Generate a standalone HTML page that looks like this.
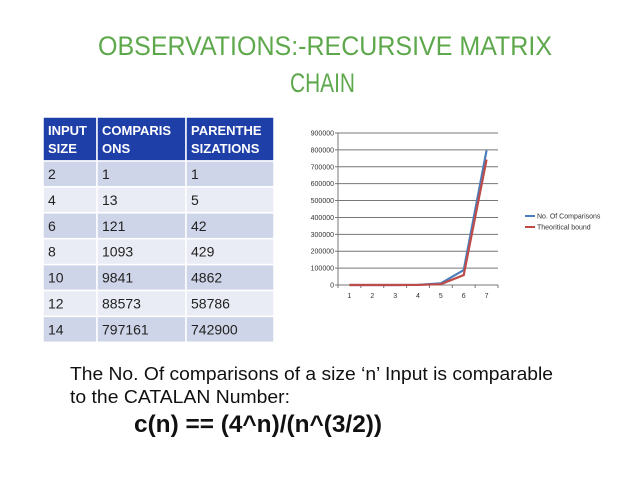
<!DOCTYPE html>
<html><head><meta charset="utf-8"><style>
body{margin:0;background:#fff;width:638px;height:478px;overflow:hidden}
svg{display:block;font-family:"Liberation Sans",sans-serif}
</style></head><body>
<svg id="s" width="638" height="478" viewBox="0 0 638 478">
<text x="98" y="55" font-size="27" fill="#5ea84c" textLength="454" lengthAdjust="spacingAndGlyphs">OBSERVATIONS:-RECURSIVE MATRIX</text>
<text x="290" y="92" font-size="27" fill="#5ea84c" textLength="65" lengthAdjust="spacingAndGlyphs">CHAIN</text>
<g id="table"></g>
<g id="chart"></g>
<text x="70" y="380" font-size="18" fill="#111" textLength="483" lengthAdjust="spacingAndGlyphs">The No. Of comparisons of a size ‘n’ Input is comparable</text>
<text x="70" y="403" font-size="18" fill="#111" textLength="220" lengthAdjust="spacingAndGlyphs">to the CATALAN Number:</text>
<text x="134" y="432" font-size="24" font-weight="bold" fill="#111" textLength="248" lengthAdjust="spacingAndGlyphs">c(n) == (4^n)/(n^(3/2))</text>
</svg>
<script>
const NS="http://www.w3.org/2000/svg";
const headers=[["INPUT","SIZE"],["COMPARIS","ONS"],["PARENTHE","SIZATIONS"]];
const inputSizes=[2,4,6,8,10,12,14];
const comparisons=[1,13,121,1093,9841,88573,797161];
const parenthesizations=[1,5,42,429,4862,58786,742900];
const categories=[1,2,3,4,5,6,7];
const yTicks=[0,100000,200000,300000,400000,500000,600000,700000,800000,900000];
const seriesNames=["No. Of Comparisons","Theoritical bound"];
function mk(tag,attrs,parent,txt){const e=document.createElementNS(NS,tag);for(const k in attrs)e.setAttribute(k,attrs[k]);if(txt!==undefined)e.textContent=txt;parent.appendChild(e);return e;}
// table
const tb=document.getElementById('table');
const colX=[43,97,186,274],hy0=117,hy1=161,rh=25.9;
for(let c=0;c<3;c++){
 const r=mk('rect',{x:colX[c],y:hy0,width:colX[c+1]-colX[c],height:hy1-hy0,fill:'#1f3fa8',stroke:'#fff','stroke-width':1.5},tb);
 
 
 headers[c].forEach((t,i)=>{const e=mk('text',{x:colX[c]+5,y:hy0+18+i*18,'font-size':13,'font-weight':'bold',fill:'#fff'},tb,t);
 
 });
}
const cols=[inputSizes,comparisons,parenthesizations];
for(let i=0;i<inputSizes.length;i++){
 const y=hy1+i*rh;
 for(let c=0;c<3;c++){
  const r=mk('rect',{x:colX[c],y:y,width:colX[c+1]-colX[c],height:rh,fill:i%2?'#e9ecf4':'#cfd5e8',stroke:'#fff','stroke-width':1.5},tb);
  
  
  const t=mk('text',{x:colX[c]+5,y:y+18,'font-size':14,fill:'#222'},tb,String(cols[c][i]));
  
  
 }
}
// chart
const ch=document.getElementById('chart');
const X0=338,X1=498,Y0=285,Y1=133,ymax=900000;
const xs=i=>X0+(X1-X0)/categories.length*(i+0.5);
const ys=v=>Y0-(Y0-Y1)*v/ymax;
yTicks.forEach(v=>{
 const l=mk('line',{x1:X0-3,x2:X1,y1:ys(v),y2:ys(v),stroke:'#777','stroke-width':1},ch);
 
 
 const t=mk('text',{x:X0-4,y:ys(v)+2.5,'font-size':7,'text-anchor':'end',fill:'#333'},ch,String(v));
 
 
});
const ax=mk('line',{x1:X0,x2:X0,y1:Y1,y2:Y0+3,stroke:'#777'},ch);


categories.forEach((c,i)=>{
 const tk=mk('line',{x1:X0+(X1-X0)/categories.length*(i+1),x2:X0+(X1-X0)/categories.length*(i+1),y1:Y0,y2:Y0+3,stroke:'#777'},ch);
 
 
 const t=mk('text',{x:xs(i),y:Y0+13,'font-size':7,'text-anchor':'middle',fill:'#333'},ch,String(c));
 
 
});
const series=[comparisons,parenthesizations],colors=['#4a7ebb','#be4b48'];
series.forEach((s,k)=>{
 const p=mk('polyline',{points:s.map((v,i)=>xs(i)+','+ys(v)).join(' '),fill:'none',stroke:colors[k],'stroke-width':2.2},ch);
 
 
 const ll=mk('line',{x1:525,x2:535,y1:216+k*11,y2:216+k*11,stroke:colors[k],'stroke-width':2},ch);
 
 
 const lt=mk('text',{x:537,y:218.5+k*11,'font-size':7,fill:'#333'},ch,seriesNames[k]);
 
 
});
</script>
</body></html>
